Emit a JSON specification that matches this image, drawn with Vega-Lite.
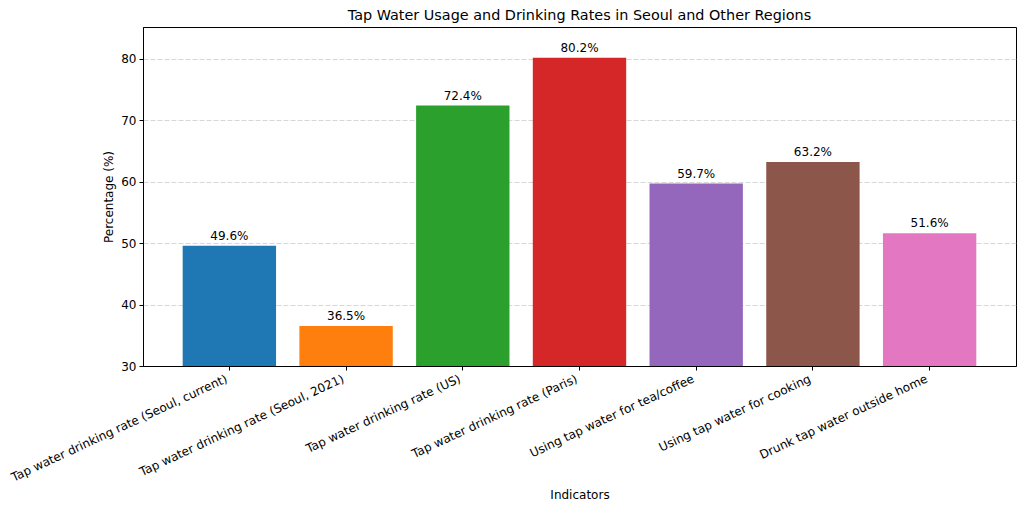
{
  "$schema": "https://vega.github.io/schema/vega-lite/v6.json",
  "autosize": {"type": "none"},
  "width": 873,
  "height": 339,
  "padding": {"left": 143, "top": 27, "right": 8, "bottom": 145},
  "background": "white",
  "config": {
    "font": "DejaVu Sans",
    "view": {"stroke": "#000000", "strokeWidth": 1},
    "axis": {
      "labelFont": "DejaVu Sans",
      "titleFont": "DejaVu Sans",
      "labelFontSize": 12,
      "titleFontSize": 12,
      "titleFontWeight": "normal",
      "labelColor": "#000000",
      "titleColor": "#000000",
      "domainColor": "#000000",
      "tickColor": "#000000",
      "tickSize": 4,
      "domainWidth": 1,
      "labelLimit": 0
    }
  },
  "title": {
    "text": "Tap Water Usage and Drinking Rates in Seoul and Other Regions",
    "font": "DejaVu Sans",
    "fontSize": 14.4,
    "fontWeight": "normal",
    "color": "#000000",
    "offset": 4
  },
  "data": {
    "values": [
      {"indicator": "Tap water drinking rate (Seoul, current)", "value": 49.6, "color": "#1f77b4"},
      {"indicator": "Tap water drinking rate (Seoul, 2021)", "value": 36.5, "color": "#ff7f0e"},
      {"indicator": "Tap water drinking rate (US)", "value": 72.4, "color": "#2ca02c"},
      {"indicator": "Tap water drinking rate (Paris)", "value": 80.2, "color": "#d62728"},
      {"indicator": "Using tap water for tea/coffee", "value": 59.7, "color": "#9467bd"},
      {"indicator": "Using tap water for cooking", "value": 63.2, "color": "#8c564b"},
      {"indicator": "Drunk tap water outside home", "value": 51.6, "color": "#e377c2"}
    ]
  },
  "encoding": {
    "x": {
      "field": "indicator",
      "type": "nominal",
      "sort": null,
      "title": "Indicators",
      "scale": {"paddingInner": 0.2, "paddingOuter": 0.34},
      "axis": {
        "labelAngle": -25,
        "labelAlign": "right",
        "labelBaseline": "top",
        "labelPadding": 3,
        "labelOffset": -5,
        "titlePadding": 6,
        "grid": false
      }
    },
    "y": {
      "field": "value",
      "type": "quantitative",
      "title": "Percentage (%)",
      "scale": {"domain": [30, 85.2], "zero": false, "nice": false},
      "axis": {
        "values": [30, 40, 50, 60, 70, 80],
        "grid": true,
        "gridColor": "#b8b8b8",
        "gridOpacity": 0.7,
        "gridDash": [5, 2],
        "gridWidth": 0.8,
        "labelPadding": 3,
        "titlePadding": 5
      }
    }
  },
  "layer": [
    {
      "mark": {"type": "bar", "clip": true},
      "encoding": {
        "color": {"field": "color", "type": "nominal", "scale": null},
        "y2": {"datum": 30}
      }
    },
    {
      "mark": {"type": "text", "baseline": "bottom", "dy": -3, "fontSize": 12, "font": "DejaVu Sans", "color": "#000000"},
      "encoding": {
        "text": {"field": "label", "type": "nominal"}
      },
      "transform": [
        {"calculate": "format(datum.value, '.1f') + '%'", "as": "label"}
      ]
    }
  ]
}
